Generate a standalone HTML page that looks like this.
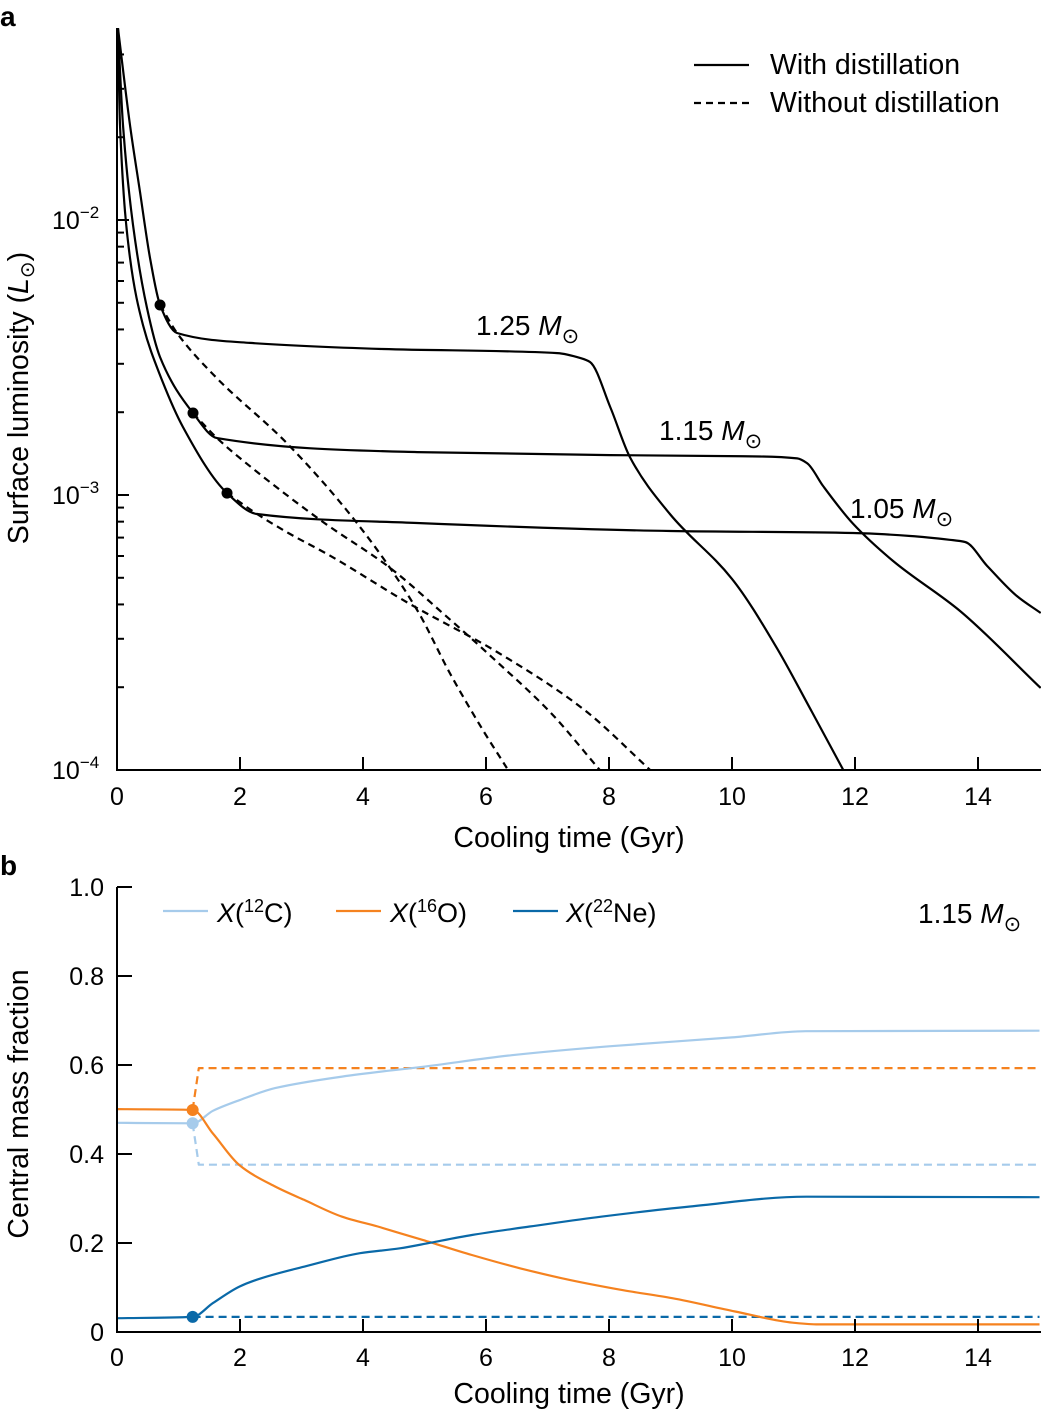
<!DOCTYPE html>
<html><head><meta charset="utf-8"><style>
body{margin:0;background:#fff}
svg{display:block;font-family:"Liberation Sans",Arial,sans-serif}
</style></head><body>
<svg id="c" width="1041" height="1410" viewBox="0 0 1041 1410">
<defs><clipPath id="clipA"><rect x="117" y="28" width="924" height="742"/></clipPath>
<clipPath id="clipB"><rect x="117" y="880" width="924" height="452"/></clipPath></defs>
<text x="0" y="26" font-size="28" font-weight="bold">a</text>
<text x="0" y="875" font-size="28" font-weight="bold">b</text>
<g id="gA"></g>
<g id="gB"></g>
</svg>
<script>
// ---- Panel a data (time in Gyr, log10 luminosity) ----
const s125T=[0.015,0.211,0.374,0.537,0.70,0.976,2.16,4.32,7.16,7.55,7.69,8.02,8.34,8.99,10.0,10.7,11.3,11.81];
const s125L=[-1.30,-1.655,-1.898,-2.138,-2.309,-2.411,-2.447,-2.469,-2.484,-2.503,-2.516,-2.680,-2.862,-3.069,-3.305,-3.545,-3.789,-4.0];
const s115T=[0.015,0.098,0.26,0.488,0.699,1.236,1.626,4.88,8.02,10.46,11.06,11.22,11.48,11.97,12.62,13.71,15.02];
const s115L=[-1.30,-1.655,-2.018,-2.32,-2.498,-2.702,-2.793,-2.844,-2.855,-2.86,-2.867,-2.884,-2.967,-3.105,-3.24,-3.422,-3.702];
const s105T=[0.015,0.049,0.211,0.423,0.699,1.073,1.789,2.276,4.88,9.0,11.97,12.9,13.54,13.79,14.15,14.63,15.02];
const s105L=[-1.30,-1.655,-2.138,-2.382,-2.564,-2.753,-2.993,-3.069,-3.102,-3.131,-3.138,-3.149,-3.163,-3.171,-3.258,-3.367,-3.429];
const d125T=[0.70,0.976,1.6,2.76,3.9,4.88,5.41,5.95,6.34];
const d125L=[-2.309,-2.411,-2.57,-2.811,-3.102,-3.418,-3.647,-3.855,-3.993];
const d115T=[1.236,1.626,2.3,3.35,4.44,5.3,6.18,7.04,7.85];
const d115L=[-2.702,-2.793,-2.92,-3.098,-3.265,-3.43,-3.607,-3.789,-4.0];
const d105T=[1.789,2.276,2.8,3.42,4.76,6.18,7.58,8.67];
const d105L=[-2.993,-3.069,-3.14,-3.215,-3.396,-3.571,-3.778,-4.0];
const markT=[0.70,1.236,1.789];
const markL=[-2.309,-2.702,-2.993];
const xTicks=[0,2,4,6,8,10,12,14];
const yExpA=[-2,-3,-4];
// ---- Panel b data (time in Gyr, mass fraction) ----
const cT=[0,1.23,1.56,1.99,2.57,3.66,4.97,6.42,8,10,11.2,15];
const cX=[0.47,0.469,0.497,0.521,0.548,0.574,0.596,0.622,0.642,0.662,0.676,0.677];
const oT=[0,1.23,1.56,1.99,2.57,3.04,3.66,4.24,4.6,4.97,5.77,6.56,7.36,8.23,9.03,10.05,10.99,11.4,15];
const oX=[0.501,0.499,0.446,0.375,0.327,0.297,0.259,0.237,0.222,0.207,0.173,0.143,0.117,0.094,0.076,0.046,0.021,0.017,0.017];
const nT=[0,1.23,1.56,1.99,2.35,3.08,3.95,4.6,5.11,5.77,6.71,7.87,9.32,11.21,15];
const nX=[0.031,0.034,0.065,0.102,0.121,0.148,0.177,0.188,0.201,0.218,0.237,0.259,0.282,0.304,0.303];
const cdT=[1.23,1.33,15], cdX=[0.469,0.376,0.376];
const odT=[1.23,1.33,15], odX=[0.499,0.593,0.593];
const ndT=[1.23,15], ndX=[0.034,0.034];
const yTicksB=[0,0.2,0.4,0.6,0.8,1.0];
const yLabB=["0","0.2","0.4","0.6","0.8","1.0"];

const NS="http://www.w3.org/2000/svg";
const xs=t=>117+t*61.5;
const ya=l=>220-(l+2)*275;
const yb=v=>1332-v*445;
function mk(tag,attrs,parent){const e=document.createElementNS(NS,tag);for(const k in attrs)e.setAttribute(k,attrs[k]);parent.appendChild(e);return e;}
// monotone cubic (Fritsch-Carlson) in x
function path(T,V,yf,stroke,dash,parent,clip,smooth){
  const X=T.map(xs),Y=V.map(yf),n=X.length;
  let d="M"+X[0].toFixed(1)+","+Y[0].toFixed(1);
  if(!smooth||n<3){for(let i=1;i<n;i++)d+="L"+X[i].toFixed(1)+","+Y[i].toFixed(1);}
  else{
    const m=[],tg=new Array(n);
    for(let i=0;i<n-1;i++)m.push((Y[i+1]-Y[i])/(X[i+1]-X[i]));
    tg[0]=m[0];tg[n-1]=m[n-2];
    for(let i=1;i<n-1;i++){if(m[i-1]*m[i]<=0)tg[i]=0;else{const h0=X[i]-X[i-1],h1=X[i+1]-X[i];const w1=2*h1+h0,w2=h1+2*h0;tg[i]=(w1+w2)/(w1/m[i-1]+w2/m[i]);}}
    for(let i=0;i<n-1;i++){const h=(X[i+1]-X[i])/3;
      d+="C"+(X[i]+h).toFixed(1)+","+(Y[i]+tg[i]*h).toFixed(1)+" "+(X[i+1]-h).toFixed(1)+","+(Y[i+1]-tg[i+1]*h).toFixed(1)+" "+X[i+1].toFixed(1)+","+Y[i+1].toFixed(1);}
  }
  const p=mk("path",{d:d,fill:"none",stroke:stroke,"stroke-width":2.2,"stroke-linejoin":"round","clip-path":"url(#"+clip+")"},parent);
  if(dash)p.setAttribute("stroke-dasharray",dash);
  return p;
}
const gA=document.getElementById("gA"), gB=document.getElementById("gB");
let p;
p=path(s125T,s125L,ya,"#000",null,gA,"clipA",true);


p=path(s115T,s115L,ya,"#000",null,gA,"clipA",true);


p=path(s105T,s105L,ya,"#000",null,gA,"clipA",true);


p=path(d125T,d125L,ya,"#000","7,5",gA,"clipA",true);


p=path(d115T,d115L,ya,"#000","7,5",gA,"clipA",true);


p=path(d105T,d105L,ya,"#000","7,5",gA,"clipA",true);


markT.forEach((t,i)=>{const c=mk("circle",{cx:xs(t),cy:ya(markL[i]),r:5.5,fill:"#000"},gA);

});
let ax=mk("path",{d:"M117,28V770H1041",fill:"none",stroke:"#000","stroke-width":2},gA);


xTicks.forEach(t=>{mk("line",{x1:xs(t),x2:xs(t),y1:770,y2:757,stroke:"#000","stroke-width":2},gA);
const tx=mk("text",{x:xs(t),y:805,"font-size":25,"text-anchor":"middle"},gA);tx.textContent=t;

});
yExpA.forEach(e=>{const y=ya(e);mk("line",{x1:117,x2:129,y1:y,y2:y,stroke:"#000","stroke-width":2},gA);
const tx=mk("text",{x:52,y:y+9,"font-size":25},gA);tx.innerHTML='10<tspan dy="-11" font-size="17">\u2212'+(-e)+'</tspan>';


if(e>-4){for(let m=2;m<=9;m++){const yy=ya(e-1+Math.log10(m));mk("line",{x1:117,x2:124,y1:yy,y2:yy,stroke:"#000","stroke-width":2},gA);}}
});
for(let m=2;m<=5;m++){const yy=ya(-2+Math.log10(m));if(yy>=28)mk("line",{x1:117,x2:124,y1:yy,y2:yy,stroke:"#000","stroke-width":2},gA);}
let t=mk("text",{x:569,y:847,"font-size":28.5,"text-anchor":"middle"},gA);t.textContent="Cooling time (Gyr)";


t=mk("text",{x:0,y:0,"font-size":28.5,"text-anchor":"middle",transform:"translate(28,398) rotate(-90)"},gA);
t.innerHTML='Surface luminosity (<tspan font-style="italic">L</tspan><tspan font-size="20" dy="6">\u2299</tspan><tspan dy="-6">)</tspan>';


function massLabel(x,y,txt,parent,name){const e=mk("text",{x:x,y:y,"font-size":28},parent);
e.innerHTML=txt+' <tspan font-style="italic">M</tspan><tspan font-size="21" dy="8">\u2299</tspan>';

}
massLabel(476,335,"1.25",gA,"label-1-25");
massLabel(659,440,"1.15",gA,"label-1-15");
massLabel(850,518,"1.05",gA,"label-1-05");
let lg=mk("g",{},gA);


mk("line",{x1:694,x2:749,y1:65,y2:65,stroke:"#000","stroke-width":2.2},lg);
mk("line",{x1:694,x2:749,y1:103,y2:103,stroke:"#000","stroke-width":2.2,"stroke-dasharray":"7,5"},lg);
t=mk("text",{x:770,y:74,"font-size":28.5},lg);t.textContent="With distillation";


t=mk("text",{x:770,y:112,"font-size":28.5},lg);t.textContent="Without distillation";



const LB="#a6cbeb",OR="#f5821f",DB="#0a69a8";
p=path(cdT,cdX,yb,LB,"8,5",gB,"clipB",false);


p=path(odT,odX,yb,OR,"8,5",gB,"clipB",false);


p=path(ndT,ndX,yb,DB,"8,5",gB,"clipB",false);


p=path(cT,cX,yb,LB,null,gB,"clipB",true);


p=path(oT,oX,yb,OR,null,gB,"clipB",true);


p=path(nT,nX,yb,DB,null,gB,"clipB",true);


[[oX,OR],[cX,LB],[nX,DB]].forEach(([arr,col])=>{const c=mk("circle",{cx:xs(1.23),cy:yb(arr[1]),r:6,fill:col},gB);

});
ax=mk("path",{d:"M117,887V1332H1041",fill:"none",stroke:"#000","stroke-width":2},gB);


xTicks.forEach(tt=>{mk("line",{x1:xs(tt),x2:xs(tt),y1:1332,y2:1319,stroke:"#000","stroke-width":2},gB);
const tx=mk("text",{x:xs(tt),y:1366,"font-size":25,"text-anchor":"middle"},gB);tx.textContent=tt;

});
yTicksB.forEach((v,i)=>{mk("line",{x1:117,x2:132,y1:yb(v),y2:yb(v),stroke:"#000","stroke-width":2},gB);
const tx=mk("text",{x:104,y:yb(v)+9,"font-size":25,"text-anchor":"end"},gB);tx.textContent=yLabB[i];

});
t=mk("text",{x:569,y:1403,"font-size":28.5,"text-anchor":"middle"},gB);t.textContent="Cooling time (Gyr)";


t=mk("text",{x:0,y:0,"font-size":28.5,"text-anchor":"middle",transform:"translate(28,1104) rotate(-90)"},gB);t.textContent="Central mass fraction";


massLabel(918,923,"1.15",gB,"label-model-mass");
function legB(x1,tx,col,sup,el,name){mk("line",{x1:x1,x2:x1+45,y1:911,y2:911,stroke:col,"stroke-width":2.2},gB);
const e=mk("text",{x:tx,y:922,"font-size":27},gB);
e.innerHTML='<tspan font-style="italic">X</tspan>(<tspan font-size="18" dy="-10">'+sup+'</tspan><tspan dy="10">'+el+')</tspan>';

}
legB(163,217,LB,"12","C","legend-entry-carbon");
legB(336,390,OR,"16","O","legend-entry-oxygen");
legB(513,566,DB,"22","Ne","legend-entry-neon");
</script>
</body></html>
